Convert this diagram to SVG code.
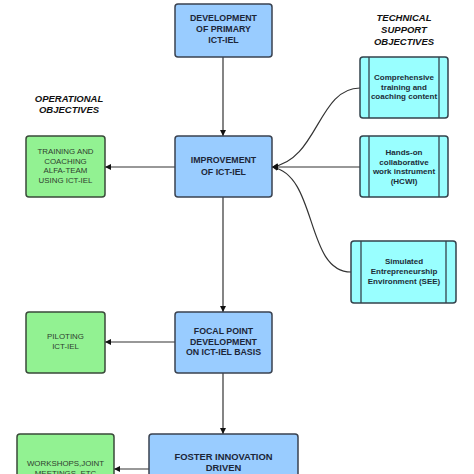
<svg xmlns="http://www.w3.org/2000/svg" width="474" height="474" viewBox="0 0 474 474">
<defs>
<style>
.blue{fill:#99ccff;stroke:#3a4250;stroke-width:1.5}
.green{fill:#92f292;stroke:#3a4a3a;stroke-width:1.5}
.cyan{fill:#99ffff;stroke:#33434c;stroke-width:1.5}
.inner{stroke:#33434c;stroke-width:1.3}
.bt{font-family:"Liberation Sans",Arial,sans-serif;font-weight:bold;font-size:8.8px;fill:#1c2638;text-anchor:middle}
.gt{font-family:"Liberation Sans",Arial,sans-serif;font-size:7.9px;fill:#2f402f;text-anchor:middle}
.ct{font-family:"Liberation Sans",Arial,sans-serif;font-weight:bold;font-size:8px;fill:#1c2d38;text-anchor:middle}
.ht{font-family:"Liberation Sans",Arial,sans-serif;font-weight:bold;font-style:italic;font-size:9.5px;fill:#111;text-anchor:middle}
.conn{fill:none;stroke:#333;stroke-width:1.2}
</style>
<marker id="arr" viewBox="0 0 10 10" refX="10" refY="5" markerWidth="6" markerHeight="6" markerUnits="userSpaceOnUse" orient="auto">
<path d="M0,0 L10,5 L0,10 z" fill="#111"/>
</marker>
</defs>
<rect width="474" height="474" fill="#fff"/>

<g id="connectors">
<line class="conn" x1="223" y1="57" x2="223" y2="136" marker-end="url(#arr)"/>
<line class="conn" x1="223" y1="197" x2="223" y2="312" marker-end="url(#arr)"/>
<line class="conn" x1="223" y1="373" x2="223" y2="434" marker-end="url(#arr)"/>
<line class="conn" x1="175" y1="167" x2="105" y2="167" marker-end="url(#arr)"/>
<line class="conn" x1="175" y1="342" x2="105" y2="342" marker-end="url(#arr)"/>
<line class="conn" x1="149" y1="469" x2="114" y2="469" marker-end="url(#arr)"/>
<path class="conn" d="M360,88 C318,88 318,160 272,167" marker-end="url(#arr)"/>
<line class="conn" x1="360" y1="167" x2="272" y2="167" marker-end="url(#arr)"/>
<path class="conn" d="M351,272 C305,272 318,175 272,167" marker-end="url(#arr)"/>
</g>

<g id="heading-operational">
<text class="ht" x="69" y="101.5">OPERATIONAL</text>
<text class="ht" x="69" y="112.5">OBJECTIVES</text>
</g>
<g id="heading-technical">
<text class="ht" x="404" y="20.5">TECHNICAL</text>
<text class="ht" x="404" y="32.5">SUPPORT</text>
<text class="ht" x="404" y="44.5">OBJECTIVES</text>
</g>

<g id="node-development">
<rect class="blue" x="175" y="4" width="97" height="53" rx="3"/>
<text class="bt" x="223.5" y="21">DEVELOPMENT</text>
<text class="bt" x="223.5" y="32">OF PRIMARY</text>
<text class="bt" x="223.5" y="43">ICT-IEL</text>
</g>

<g id="node-improvement">
<rect class="blue" x="175" y="136" width="97" height="61" rx="3"/>
<text class="bt" x="223.5" y="163">IMPROVEMENT</text>
<text class="bt" x="223.5" y="174.5">OF ICT-IEL</text>
</g>

<g id="node-focal">
<rect class="blue" x="175" y="312" width="97" height="61" rx="3"/>
<text class="bt" x="223.5" y="334.2">FOCAL POINT</text>
<text class="bt" x="223.5" y="344.5">DEVELOPMENT</text>
<text class="bt" x="223.5" y="354.8">ON ICT-IEL BASIS</text>
</g>

<g id="node-foster">
<rect class="blue" x="149" y="434" width="149" height="60" rx="3"/>
<text class="bt" x="223.5" y="459.5" style="font-size:9.4px">FOSTER INNOVATION</text>
<text class="bt" x="223.5" y="470.5" style="font-size:9.4px">DRIVEN</text>
</g>

<g id="node-training">
<rect class="green" x="26" y="136" width="79" height="61" rx="3"/>
<text class="gt" x="65.5" y="154">TRAINING AND</text>
<text class="gt" x="65.5" y="163.7">COACHING</text>
<text class="gt" x="65.5" y="173.4">ALFA-TEAM</text>
<text class="gt" x="65.5" y="183.1">USING ICT-IEL</text>
</g>

<g id="node-piloting">
<rect class="green" x="26" y="312" width="79" height="61" rx="3"/>
<text class="gt" x="65.5" y="339">PILOTING</text>
<text class="gt" x="65.5" y="349">ICT-IEL</text>
</g>

<g id="node-workshops">
<rect class="green" x="17" y="434" width="97" height="60" rx="3"/>
<text class="gt" x="65.5" y="466">WORKSHOPS,JOINT</text>
<text class="gt" x="65.5" y="476">MEETINGS, ETC</text>
</g>

<g id="node-comprehensive">
<rect class="cyan" x="360" y="57" width="88" height="61" rx="3"/>
<line class="inner" x1="369" y1="57" x2="369" y2="118"/>
<line class="inner" x1="439" y1="57" x2="439" y2="118"/>
<text class="ct" x="404" y="80">Comprehensive</text>
<text class="ct" x="404" y="89.5">training and</text>
<text class="ct" x="404" y="99">coaching content</text>
</g>

<g id="node-hcwi">
<rect class="cyan" x="360" y="136" width="88" height="61" rx="3"/>
<line class="inner" x1="369" y1="136" x2="369" y2="197"/>
<line class="inner" x1="439" y1="136" x2="439" y2="197"/>
<text class="ct" x="404" y="155">Hands-on</text>
<text class="ct" x="404" y="164.5">collaborative</text>
<text class="ct" x="404" y="174">work instrument</text>
<text class="ct" x="404" y="183.5">(HCWI)</text>
</g>

<g id="node-see">
<rect class="cyan" x="351" y="241" width="105" height="62" rx="3"/>
<line class="inner" x1="361" y1="241" x2="361" y2="303"/>
<line class="inner" x1="446" y1="241" x2="446" y2="303"/>
<text class="ct" x="404" y="264">Simulated</text>
<text class="ct" x="404" y="274">Entrepreneurship</text>
<text class="ct" x="404" y="284">Environment (SEE)</text>
</g>
</svg>
